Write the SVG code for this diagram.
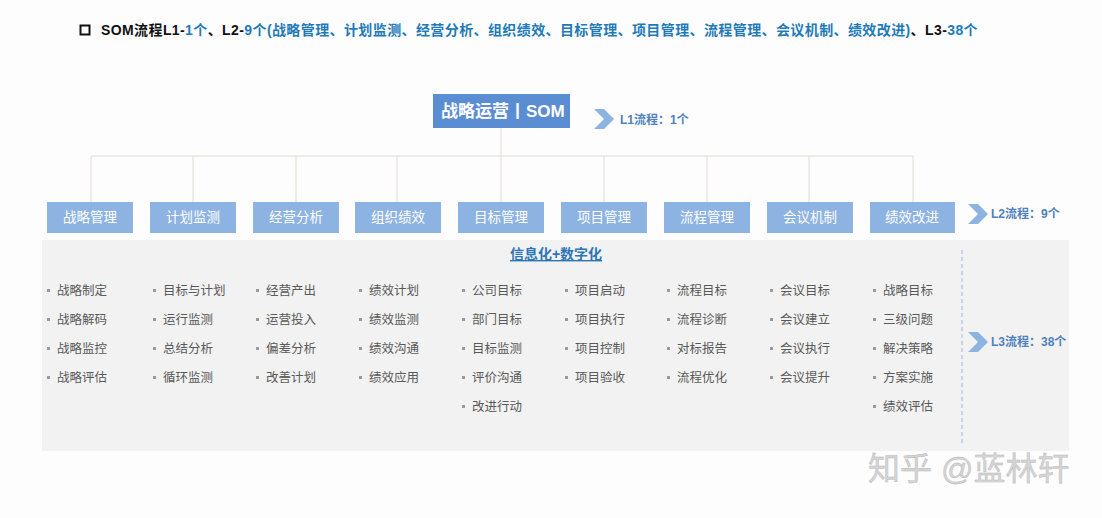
<svg xmlns="http://www.w3.org/2000/svg" width="1102" height="518" viewBox="0 0 1102 518">
<defs>
<style>
text{font-family:"Liberation Sans","Noto Sans CJK SC",sans-serif;}
.title{font-size:14px;font-weight:bold;fill:#111;letter-spacing:0.4px;}
.tb{fill:#1f7ab8;}
.top{fill:#5b8dd3;}
.topt{font-size:17px;font-weight:bold;fill:#fff;}
.l2{fill:#8db3e2;}
.l2t{font-size:13.5px;fill:#fff;text-anchor:middle;}
.lab{font-size:12px;font-weight:bold;fill:#4f81bd;}
.chev{fill:#8db3e2;}
.item{font-size:12.5px;fill:#595959;}
.dot{fill:#999;}
.conn line{stroke:#e0dccf;stroke-width:1;}
</style>
<path id="chev" d="M0,0 L10,0 L20,10 L10,20 L0,20 L10,10 Z"/>
</defs>
<rect width="1102" height="518" fill="#fdfdfe"/>
<g id="title">
<rect x="80.5" y="25.5" width="9" height="9" fill="none" stroke="#111" stroke-width="2"/>
<text class="title" x="101" y="35">SOM流程L1-<tspan class="tb">1个</tspan>、L2-<tspan class="tb">9个(战略管理、计划监测、经营分析、组织绩效、目标管理、项目管理、流程管理、会议机制、绩效改进)</tspan>、L3-<tspan class="tb">38个</tspan></text>
</g>
<g id="panel">
<rect x="42" y="240" width="1027" height="211" fill="#f2f2f2"/>
<line x1="962" y1="250" x2="962" y2="446" stroke="#b8cce8" stroke-width="1.5" stroke-dasharray="4,3"/>
</g>
<g class="conn" id="connectors">
<line x1="501" y1="128" x2="501" y2="156"/>
<line x1="91" y1="156" x2="913" y2="156"/>
<line x1="91" y1="156" x2="91" y2="202"/>
<line x1="193" y1="156" x2="193" y2="202"/>
<line x1="296" y1="156" x2="296" y2="202"/>
<line x1="397" y1="156" x2="397" y2="202"/>
<line x1="501" y1="156" x2="501" y2="202"/>
<line x1="604" y1="156" x2="604" y2="202"/>
<line x1="707" y1="156" x2="707" y2="202"/>
<line x1="809" y1="156" x2="809" y2="202"/>
<line x1="913" y1="156" x2="913" y2="202"/>
</g>
<g id="node-som">
<rect class="top" x="433" y="94" width="137" height="34"/>
<text class="topt" x="441" y="117">战略运营丨SOM</text>
</g>
<g id="label-l1">
<use href="#chev" class="chev" x="594" y="109"/>
<text class="lab" x="620" y="124">L1流程：1个</text>
</g>
<g id="node-zlgl"><rect class="l2" x="47" y="202" width="86" height="31"/><text class="l2t" x="90" y="222">战略管理</text></g>
<g id="node-jhjc"><rect class="l2" x="150" y="202" width="86" height="31"/><text class="l2t" x="193" y="222">计划监测</text></g>
<g id="node-jyfx"><rect class="l2" x="253" y="202" width="86" height="31"/><text class="l2t" x="296" y="222">经营分析</text></g>
<g id="node-zzjx"><rect class="l2" x="355" y="202" width="86" height="31"/><text class="l2t" x="398" y="222">组织绩效</text></g>
<g id="node-mbgl"><rect class="l2" x="458" y="202" width="86" height="31"/><text class="l2t" x="501" y="222">目标管理</text></g>
<g id="node-xmgl"><rect class="l2" x="561" y="202" width="86" height="31"/><text class="l2t" x="604" y="222">项目管理</text></g>
<g id="node-lcgl"><rect class="l2" x="664" y="202" width="86" height="31"/><text class="l2t" x="707" y="222">流程管理</text></g>
<g id="node-hyjz"><rect class="l2" x="767" y="202" width="86" height="31"/><text class="l2t" x="810" y="222">会议机制</text></g>
<g id="node-jxgj"><rect class="l2" x="870" y="202" width="85" height="31"/><text class="l2t" x="912" y="222">绩效改进</text></g>
<g id="label-l2">
<use href="#chev" class="chev" x="968" y="204"/>
<text class="lab" x="991" y="218">L2流程：9个</text>
</g>
<g id="header-info">
<text x="556" y="259" text-anchor="middle" font-size="14" font-weight="bold" fill="#2e75b6" text-decoration="underline">信息化+数字化</text>
</g>
<g id="items">
<g id="col1">
<rect class="dot" x="47" y="289" width="3" height="3"/><text class="item" x="57" y="295">战略制定</text>
<rect class="dot" x="47" y="318" width="3" height="3"/><text class="item" x="57" y="324">战略解码</text>
<rect class="dot" x="47" y="347" width="3" height="3"/><text class="item" x="57" y="353">战略监控</text>
<rect class="dot" x="47" y="376" width="3" height="3"/><text class="item" x="57" y="382">战略评估</text>
</g>
<g id="col2">
<rect class="dot" x="153" y="289" width="3" height="3"/><text class="item" x="163" y="295">目标与计划</text>
<rect class="dot" x="153" y="318" width="3" height="3"/><text class="item" x="163" y="324">运行监测</text>
<rect class="dot" x="153" y="347" width="3" height="3"/><text class="item" x="163" y="353">总结分析</text>
<rect class="dot" x="153" y="376" width="3" height="3"/><text class="item" x="163" y="382">循环监测</text>
</g>
<g id="col3">
<rect class="dot" x="256" y="289" width="3" height="3"/><text class="item" x="266" y="295">经营产出</text>
<rect class="dot" x="256" y="318" width="3" height="3"/><text class="item" x="266" y="324">运营投入</text>
<rect class="dot" x="256" y="347" width="3" height="3"/><text class="item" x="266" y="353">偏差分析</text>
<rect class="dot" x="256" y="376" width="3" height="3"/><text class="item" x="266" y="382">改善计划</text>
</g>
<g id="col4">
<rect class="dot" x="359" y="289" width="3" height="3"/><text class="item" x="369" y="295">绩效计划</text>
<rect class="dot" x="359" y="318" width="3" height="3"/><text class="item" x="369" y="324">绩效监测</text>
<rect class="dot" x="359" y="347" width="3" height="3"/><text class="item" x="369" y="353">绩效沟通</text>
<rect class="dot" x="359" y="376" width="3" height="3"/><text class="item" x="369" y="382">绩效应用</text>
</g>
<g id="col5">
<rect class="dot" x="462" y="289" width="3" height="3"/><text class="item" x="472" y="295">公司目标</text>
<rect class="dot" x="462" y="318" width="3" height="3"/><text class="item" x="472" y="324">部门目标</text>
<rect class="dot" x="462" y="347" width="3" height="3"/><text class="item" x="472" y="353">目标监测</text>
<rect class="dot" x="462" y="376" width="3" height="3"/><text class="item" x="472" y="382">评价沟通</text>
<rect class="dot" x="462" y="405" width="3" height="3"/><text class="item" x="472" y="411">改进行动</text>
</g>
<g id="col6">
<rect class="dot" x="565" y="289" width="3" height="3"/><text class="item" x="575" y="295">项目启动</text>
<rect class="dot" x="565" y="318" width="3" height="3"/><text class="item" x="575" y="324">项目执行</text>
<rect class="dot" x="565" y="347" width="3" height="3"/><text class="item" x="575" y="353">项目控制</text>
<rect class="dot" x="565" y="376" width="3" height="3"/><text class="item" x="575" y="382">项目验收</text>
</g>
<g id="col7">
<rect class="dot" x="667" y="289" width="3" height="3"/><text class="item" x="677" y="295">流程目标</text>
<rect class="dot" x="667" y="318" width="3" height="3"/><text class="item" x="677" y="324">流程诊断</text>
<rect class="dot" x="667" y="347" width="3" height="3"/><text class="item" x="677" y="353">对标报告</text>
<rect class="dot" x="667" y="376" width="3" height="3"/><text class="item" x="677" y="382">流程优化</text>
</g>
<g id="col8">
<rect class="dot" x="770" y="289" width="3" height="3"/><text class="item" x="780" y="295">会议目标</text>
<rect class="dot" x="770" y="318" width="3" height="3"/><text class="item" x="780" y="324">会议建立</text>
<rect class="dot" x="770" y="347" width="3" height="3"/><text class="item" x="780" y="353">会议执行</text>
<rect class="dot" x="770" y="376" width="3" height="3"/><text class="item" x="780" y="382">会议提升</text>
</g>
<g id="col9">
<rect class="dot" x="873" y="289" width="3" height="3"/><text class="item" x="883" y="295">战略目标</text>
<rect class="dot" x="873" y="318" width="3" height="3"/><text class="item" x="883" y="324">三级问题</text>
<rect class="dot" x="873" y="347" width="3" height="3"/><text class="item" x="883" y="353">解决策略</text>
<rect class="dot" x="873" y="376" width="3" height="3"/><text class="item" x="883" y="382">方案实施</text>
<rect class="dot" x="873" y="405" width="3" height="3"/><text class="item" x="883" y="411">绩效评估</text>
</g>
</g>
<g id="label-l3">
<use href="#chev" class="chev" x="968" y="332"/>
<text class="lab" x="991" y="346">L3流程：38个</text>
</g>
<g id="watermark">
<text x="868" y="480" font-size="32" fill="#d4d4d4" stroke="#b8b8b8" stroke-width="0.4">知乎 @蓝林轩</text>
</g>
</svg>
